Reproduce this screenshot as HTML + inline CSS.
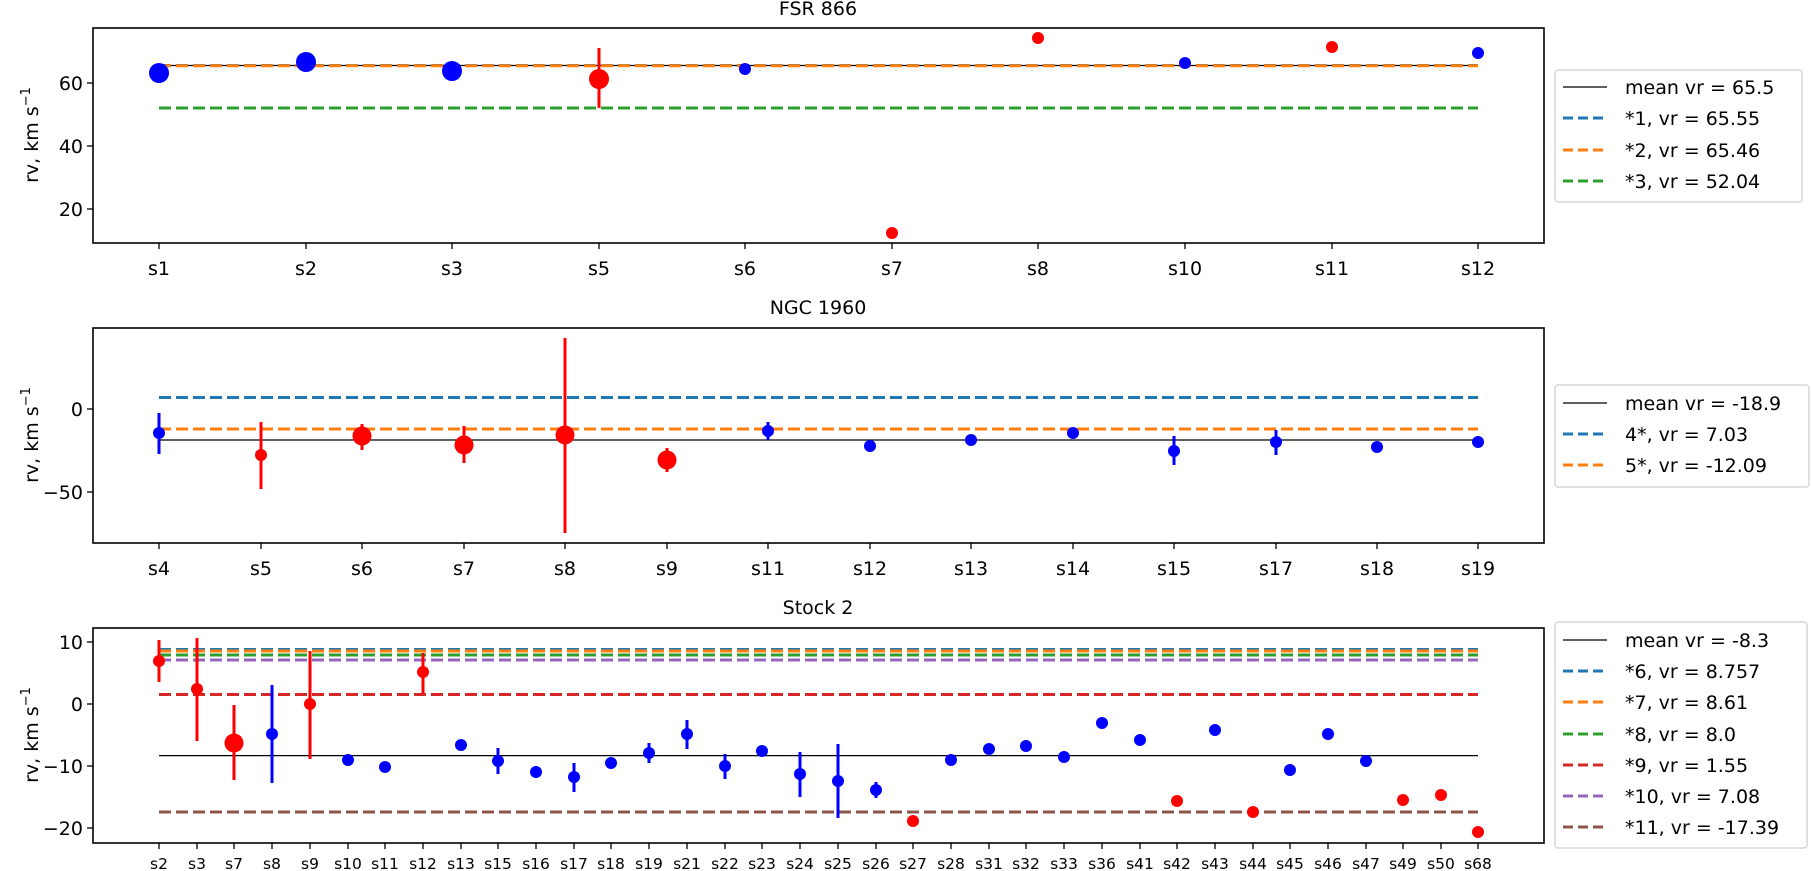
<!DOCTYPE html>
<html><head><meta charset="utf-8"><style>
html,body{margin:0;padding:0;background:#fff;}
svg{display:block;font-family:"DejaVu Sans","Liberation Sans",sans-serif;}
</style></head><body>
<svg width="1811" height="871" viewBox="0 0 1811 871" xmlns="http://www.w3.org/2000/svg">
<rect width="1811" height="871" fill="#fff"/>

<!-- ===== Panel 1 ===== -->
<text x="818" y="15" font-size="19" text-anchor="middle">FSR 866</text>
<g stroke-width="3" fill="none">
<line x1="159" y1="108" x2="1478" y2="108" stroke="#2ca02c" stroke-dasharray="12,5"/>
<line x1="159" y1="65.5" x2="1478" y2="65.5" stroke="#000" stroke-width="1.3"/>
<line x1="159" y1="65.5" x2="1478" y2="65.5" stroke="#1f77b4" stroke-dasharray="12,5"/>
<line x1="159" y1="65.8" x2="1478" y2="65.8" stroke="#ff7f0e" stroke-dasharray="12,5"/>
<line x1="599" y1="48" x2="599" y2="108" stroke="red"/>
</g>
<circle cx="159" cy="73" r="10" fill="blue"/>
<circle cx="306" cy="62" r="10" fill="blue"/>
<circle cx="452" cy="71" r="10" fill="blue"/>
<circle cx="599" cy="79" r="10" fill="red"/>
<circle cx="745" cy="69" r="6" fill="blue"/>
<circle cx="892" cy="233" r="6" fill="red"/>
<circle cx="1038" cy="38" r="6" fill="red"/>
<circle cx="1185" cy="63" r="6" fill="blue"/>
<circle cx="1332" cy="47" r="6" fill="red"/>
<circle cx="1478" cy="53" r="6" fill="blue"/>
<rect x="93" y="28" width="1451" height="215" fill="none" stroke="#000" stroke-width="1.6"/>
<g stroke="#000" stroke-width="1.3">
<line x1="87" y1="83" x2="93" y2="83"/><line x1="87" y1="146" x2="93" y2="146"/><line x1="87" y1="209" x2="93" y2="209"/>
<line x1="159" y1="243" x2="159" y2="249"/><line x1="306" y1="243" x2="306" y2="249"/><line x1="452" y1="243" x2="452" y2="249"/><line x1="599" y1="243" x2="599" y2="249"/><line x1="745" y1="243" x2="745" y2="249"/><line x1="892" y1="243" x2="892" y2="249"/><line x1="1038" y1="243" x2="1038" y2="249"/><line x1="1185" y1="243" x2="1185" y2="249"/><line x1="1332" y1="243" x2="1332" y2="249"/><line x1="1478" y1="243" x2="1478" y2="249"/>
</g>
<g font-size="19" text-anchor="end">
<text x="83" y="90">60</text><text x="83" y="153">40</text><text x="83" y="216">20</text>
</g>
<g font-size="19" text-anchor="middle">
<text x="159" y="275">s1</text><text x="306" y="275">s2</text><text x="452" y="275">s3</text><text x="599" y="275">s5</text><text x="745" y="275">s6</text><text x="892" y="275">s7</text><text x="1038" y="275">s8</text><text x="1185" y="275">s10</text><text x="1332" y="275">s11</text><text x="1478" y="275">s12</text>
</g>
<text transform="translate(38,135) rotate(-90)" font-size="19" text-anchor="middle">rv, km s<tspan font-size="13" dy="-8">−1</tspan></text>
<!-- legend 1 -->
<rect x="1555" y="70" width="247" height="132" rx="3" fill="#fff" stroke="#d6d6d6" stroke-width="1.5"/>
<g stroke-width="3">
<line x1="1563" y1="87" x2="1607" y2="87" stroke="#000" stroke-width="1.3"/>
<line x1="1563" y1="118" x2="1607" y2="118" stroke="#1f77b4" stroke-dasharray="10,5"/>
<line x1="1563" y1="150" x2="1607" y2="150" stroke="#ff7f0e" stroke-dasharray="10,5"/>
<line x1="1563" y1="181" x2="1607" y2="181" stroke="#2ca02c" stroke-dasharray="10,5"/>
</g>
<g font-size="19">
<text x="1625" y="94">mean vr = 65.5</text><text x="1625" y="125">*1, vr = 65.55</text><text x="1625" y="157">*2, vr = 65.46</text><text x="1625" y="188">*3, vr = 52.04</text>
</g>

<!-- ===== Panel 2 ===== -->
<text x="818" y="314" font-size="19" text-anchor="middle">NGC 1960</text>
<g stroke-width="3" fill="none">
<line x1="159" y1="397.5" x2="1478" y2="397.5" stroke="#1f77b4" stroke-dasharray="12,5"/>
<line x1="159" y1="429" x2="1478" y2="429" stroke="#ff7f0e" stroke-dasharray="12,5"/>
<line x1="159" y1="440" x2="1478" y2="440" stroke="#000" stroke-width="1.3"/>
<line x1="159" y1="413" x2="159" y2="454" stroke="blue"/>
<line x1="261" y1="422" x2="261" y2="489" stroke="red"/>
<line x1="362" y1="424" x2="362" y2="450" stroke="red"/>
<line x1="464" y1="426" x2="464" y2="463" stroke="red"/>
<line x1="565" y1="338" x2="565" y2="533" stroke="red"/>
<line x1="667" y1="448" x2="667" y2="472" stroke="red"/>
<line x1="768" y1="422" x2="768" y2="440" stroke="blue"/>
<line x1="1174" y1="436" x2="1174" y2="465" stroke="blue"/>
<line x1="1276" y1="430" x2="1276" y2="455" stroke="blue"/>
</g>
<circle cx="159" cy="433" r="6" fill="blue"/>
<circle cx="261" cy="455" r="6" fill="red"/>
<circle cx="362" cy="436" r="9.5" fill="red"/>
<circle cx="464" cy="445" r="9.5" fill="red"/>
<circle cx="565" cy="435" r="9.5" fill="red"/>
<circle cx="667" cy="460" r="9.5" fill="red"/>
<circle cx="768" cy="431" r="6" fill="blue"/>
<circle cx="870" cy="446" r="6" fill="blue"/>
<circle cx="971" cy="440" r="6" fill="blue"/>
<circle cx="1073" cy="433" r="6" fill="blue"/>
<circle cx="1174" cy="451" r="6" fill="blue"/>
<circle cx="1276" cy="442" r="6" fill="blue"/>
<circle cx="1377" cy="447" r="6" fill="blue"/>
<circle cx="1478" cy="442" r="6" fill="blue"/>
<rect x="93" y="328" width="1451" height="215" fill="none" stroke="#000" stroke-width="1.6"/>
<g stroke="#000" stroke-width="1.3">
<line x1="87" y1="409" x2="93" y2="409"/><line x1="87" y1="492" x2="93" y2="492"/>
<line x1="159" y1="543" x2="159" y2="549"/><line x1="261" y1="543" x2="261" y2="549"/><line x1="362" y1="543" x2="362" y2="549"/><line x1="464" y1="543" x2="464" y2="549"/><line x1="565" y1="543" x2="565" y2="549"/><line x1="667" y1="543" x2="667" y2="549"/><line x1="768" y1="543" x2="768" y2="549"/><line x1="870" y1="543" x2="870" y2="549"/><line x1="971" y1="543" x2="971" y2="549"/><line x1="1073" y1="543" x2="1073" y2="549"/><line x1="1174" y1="543" x2="1174" y2="549"/><line x1="1276" y1="543" x2="1276" y2="549"/><line x1="1377" y1="543" x2="1377" y2="549"/><line x1="1478" y1="543" x2="1478" y2="549"/>
</g>
<g font-size="19" text-anchor="end">
<text x="83" y="416">0</text><text x="83" y="499">−50</text>
</g>
<g font-size="19" text-anchor="middle">
<text x="159" y="575">s4</text><text x="261" y="575">s5</text><text x="362" y="575">s6</text><text x="464" y="575">s7</text><text x="565" y="575">s8</text><text x="667" y="575">s9</text><text x="768" y="575">s11</text><text x="870" y="575">s12</text><text x="971" y="575">s13</text><text x="1073" y="575">s14</text><text x="1174" y="575">s15</text><text x="1276" y="575">s17</text><text x="1377" y="575">s18</text><text x="1478" y="575">s19</text>
</g>
<text transform="translate(38,435) rotate(-90)" font-size="19" text-anchor="middle">rv, km s<tspan font-size="13" dy="-8">−1</tspan></text>
<!-- legend 2 -->
<rect x="1555" y="385" width="254" height="102" rx="3" fill="#fff" stroke="#d6d6d6" stroke-width="1.5"/>
<g stroke-width="3">
<line x1="1563" y1="403" x2="1607" y2="403" stroke="#000" stroke-width="1.3"/>
<line x1="1563" y1="434" x2="1607" y2="434" stroke="#1f77b4" stroke-dasharray="10,5"/>
<line x1="1563" y1="465" x2="1607" y2="465" stroke="#ff7f0e" stroke-dasharray="10,5"/>
</g>
<g font-size="19">
<text x="1625" y="410">mean vr = -18.9</text><text x="1625" y="441">4*, vr = 7.03</text><text x="1625" y="472">5*, vr = -12.09</text>
</g>

<!-- ===== Panel 3 ===== -->
<text x="818" y="614" font-size="19" text-anchor="middle">Stock 2</text>
<g stroke-width="3" fill="none">
<line x1="159" y1="649.5" x2="1478" y2="649.5" stroke="#1f77b4" stroke-dasharray="12,5"/>
<line x1="159" y1="651" x2="1478" y2="651" stroke="#ff7f0e" stroke-dasharray="12,5"/>
<line x1="159" y1="655" x2="1478" y2="655" stroke="#2ca02c" stroke-dasharray="12,5"/>
<line x1="159" y1="694.5" x2="1478" y2="694.5" stroke="#d62728" stroke-dasharray="12,5"/>
<line x1="159" y1="660" x2="1478" y2="660" stroke="#9467bd" stroke-dasharray="12,5"/>
<line x1="159" y1="812" x2="1478" y2="812" stroke="#8c564b" stroke-dasharray="12,5"/>
<line x1="159" y1="755.6" x2="1478" y2="755.6" stroke="#000" stroke-width="1.3"/>
<line x1="159" y1="640" x2="159" y2="682" stroke="red"/>
<line x1="197" y1="638" x2="197" y2="741" stroke="red"/>
<line x1="234" y1="705" x2="234" y2="780" stroke="red"/>
<line x1="272" y1="685" x2="272" y2="783" stroke="blue"/>
<line x1="310" y1="651" x2="310" y2="759" stroke="red"/>
<line x1="423" y1="653" x2="423" y2="693" stroke="red"/>
<line x1="498" y1="748" x2="498" y2="774" stroke="blue"/>
<line x1="574" y1="763" x2="574" y2="792" stroke="blue"/>
<line x1="649" y1="743" x2="649" y2="763" stroke="blue"/>
<line x1="687" y1="720" x2="687" y2="749" stroke="blue"/>
<line x1="725" y1="754" x2="725" y2="779" stroke="blue"/>
<line x1="800" y1="752" x2="800" y2="797" stroke="blue"/>
<line x1="838" y1="744" x2="838" y2="818" stroke="blue"/>
<line x1="876" y1="782" x2="876" y2="798" stroke="blue"/>
</g>
<g fill="red">
<circle cx="159" cy="661" r="6"/><circle cx="197" cy="689" r="6"/><circle cx="234" cy="743" r="9.5"/><circle cx="310" cy="704" r="6"/><circle cx="423" cy="672" r="6"/><circle cx="913" cy="821" r="6"/><circle cx="1177" cy="801" r="6"/><circle cx="1253" cy="812" r="6"/><circle cx="1403" cy="800" r="6"/><circle cx="1441" cy="795" r="6"/><circle cx="1478" cy="832" r="6"/>
</g>
<g fill="blue">
<circle cx="272" cy="734" r="6"/><circle cx="348" cy="760" r="6"/><circle cx="385" cy="767" r="6"/><circle cx="461" cy="745" r="6"/><circle cx="498" cy="761" r="6"/><circle cx="536" cy="772" r="6"/><circle cx="574" cy="777" r="6"/><circle cx="611" cy="763" r="6"/><circle cx="649" cy="753" r="6"/><circle cx="687" cy="734" r="6"/><circle cx="725" cy="766" r="6"/><circle cx="762" cy="751" r="6"/><circle cx="800" cy="774" r="6"/><circle cx="838" cy="781" r="6"/><circle cx="876" cy="790" r="6"/><circle cx="951" cy="760" r="6"/><circle cx="989" cy="749" r="6"/><circle cx="1026" cy="746" r="6"/><circle cx="1064" cy="757" r="6"/><circle cx="1102" cy="723" r="6"/><circle cx="1140" cy="740" r="6"/><circle cx="1215" cy="730" r="6"/><circle cx="1290" cy="770" r="6"/><circle cx="1328" cy="734" r="6"/><circle cx="1366" cy="761" r="6"/>
</g>
<rect x="93" y="628" width="1451" height="215" fill="none" stroke="#000" stroke-width="1.6"/>
<g stroke="#000" stroke-width="1.3">
<line x1="87" y1="642" x2="93" y2="642"/><line x1="87" y1="704" x2="93" y2="704"/><line x1="87" y1="766" x2="93" y2="766"/><line x1="87" y1="828" x2="93" y2="828"/>
</g>
<g stroke="#000" stroke-width="1.3">
<line x1="159" y1="843" x2="159" y2="849"/><line x1="197" y1="843" x2="197" y2="849"/><line x1="234" y1="843" x2="234" y2="849"/><line x1="272" y1="843" x2="272" y2="849"/><line x1="310" y1="843" x2="310" y2="849"/><line x1="348" y1="843" x2="348" y2="849"/><line x1="385" y1="843" x2="385" y2="849"/><line x1="423" y1="843" x2="423" y2="849"/><line x1="461" y1="843" x2="461" y2="849"/><line x1="498" y1="843" x2="498" y2="849"/><line x1="536" y1="843" x2="536" y2="849"/><line x1="574" y1="843" x2="574" y2="849"/><line x1="611" y1="843" x2="611" y2="849"/><line x1="649" y1="843" x2="649" y2="849"/><line x1="687" y1="843" x2="687" y2="849"/><line x1="725" y1="843" x2="725" y2="849"/><line x1="762" y1="843" x2="762" y2="849"/><line x1="800" y1="843" x2="800" y2="849"/><line x1="838" y1="843" x2="838" y2="849"/><line x1="876" y1="843" x2="876" y2="849"/><line x1="913" y1="843" x2="913" y2="849"/><line x1="951" y1="843" x2="951" y2="849"/><line x1="989" y1="843" x2="989" y2="849"/><line x1="1026" y1="843" x2="1026" y2="849"/><line x1="1064" y1="843" x2="1064" y2="849"/><line x1="1102" y1="843" x2="1102" y2="849"/><line x1="1140" y1="843" x2="1140" y2="849"/><line x1="1177" y1="843" x2="1177" y2="849"/><line x1="1215" y1="843" x2="1215" y2="849"/><line x1="1253" y1="843" x2="1253" y2="849"/><line x1="1290" y1="843" x2="1290" y2="849"/><line x1="1328" y1="843" x2="1328" y2="849"/><line x1="1366" y1="843" x2="1366" y2="849"/><line x1="1403" y1="843" x2="1403" y2="849"/><line x1="1441" y1="843" x2="1441" y2="849"/><line x1="1478" y1="843" x2="1478" y2="849"/>
</g>
<g font-size="19" text-anchor="end">
<text x="83" y="649">10</text><text x="83" y="711">0</text><text x="83" y="773">−10</text><text x="83" y="835">−20</text>
</g>
<g font-size="15.5" text-anchor="middle">
<text x="159" y="869">s2</text><text x="197" y="869">s3</text><text x="234" y="869">s7</text><text x="272" y="869">s8</text><text x="310" y="869">s9</text><text x="348" y="869">s10</text><text x="385" y="869">s11</text><text x="423" y="869">s12</text><text x="461" y="869">s13</text><text x="498" y="869">s15</text><text x="536" y="869">s16</text><text x="574" y="869">s17</text><text x="611" y="869">s18</text><text x="649" y="869">s19</text><text x="687" y="869">s21</text><text x="725" y="869">s22</text><text x="762" y="869">s23</text><text x="800" y="869">s24</text><text x="838" y="869">s25</text><text x="876" y="869">s26</text><text x="913" y="869">s27</text><text x="951" y="869">s28</text><text x="989" y="869">s31</text><text x="1026" y="869">s32</text><text x="1064" y="869">s33</text><text x="1102" y="869">s36</text><text x="1140" y="869">s41</text><text x="1177" y="869">s42</text><text x="1215" y="869">s43</text><text x="1253" y="869">s44</text><text x="1290" y="869">s45</text><text x="1328" y="869">s46</text><text x="1366" y="869">s47</text><text x="1403" y="869">s49</text><text x="1441" y="869">s50</text><text x="1478" y="869">s68</text>
</g>
<text transform="translate(38,735) rotate(-90)" font-size="19" text-anchor="middle">rv, km s<tspan font-size="13" dy="-8">−1</tspan></text>
<!-- legend 3 -->
<rect x="1555" y="622" width="252" height="226" rx="3" fill="#fff" stroke="#d6d6d6" stroke-width="1.5"/>
<g stroke-width="3">
<line x1="1563" y1="640" x2="1607" y2="640" stroke="#000" stroke-width="1.3"/>
<line x1="1563" y1="671" x2="1607" y2="671" stroke="#1f77b4" stroke-dasharray="10,5"/>
<line x1="1563" y1="702" x2="1607" y2="702" stroke="#ff7f0e" stroke-dasharray="10,5"/>
<line x1="1563" y1="734" x2="1607" y2="734" stroke="#2ca02c" stroke-dasharray="10,5"/>
<line x1="1563" y1="765" x2="1607" y2="765" stroke="#d62728" stroke-dasharray="10,5"/>
<line x1="1563" y1="796" x2="1607" y2="796" stroke="#9467bd" stroke-dasharray="10,5"/>
<line x1="1563" y1="827" x2="1607" y2="827" stroke="#8c564b" stroke-dasharray="10,5"/>
</g>
<g font-size="19">
<text x="1625" y="647">mean vr = -8.3</text><text x="1625" y="678">*6, vr = 8.757</text><text x="1625" y="709">*7, vr = 8.61</text><text x="1625" y="741">*8, vr = 8.0</text><text x="1625" y="772">*9, vr = 1.55</text><text x="1625" y="803">*10, vr = 7.08</text><text x="1625" y="834">*11, vr = -17.39</text>
</g>
</svg>
</body></html>
